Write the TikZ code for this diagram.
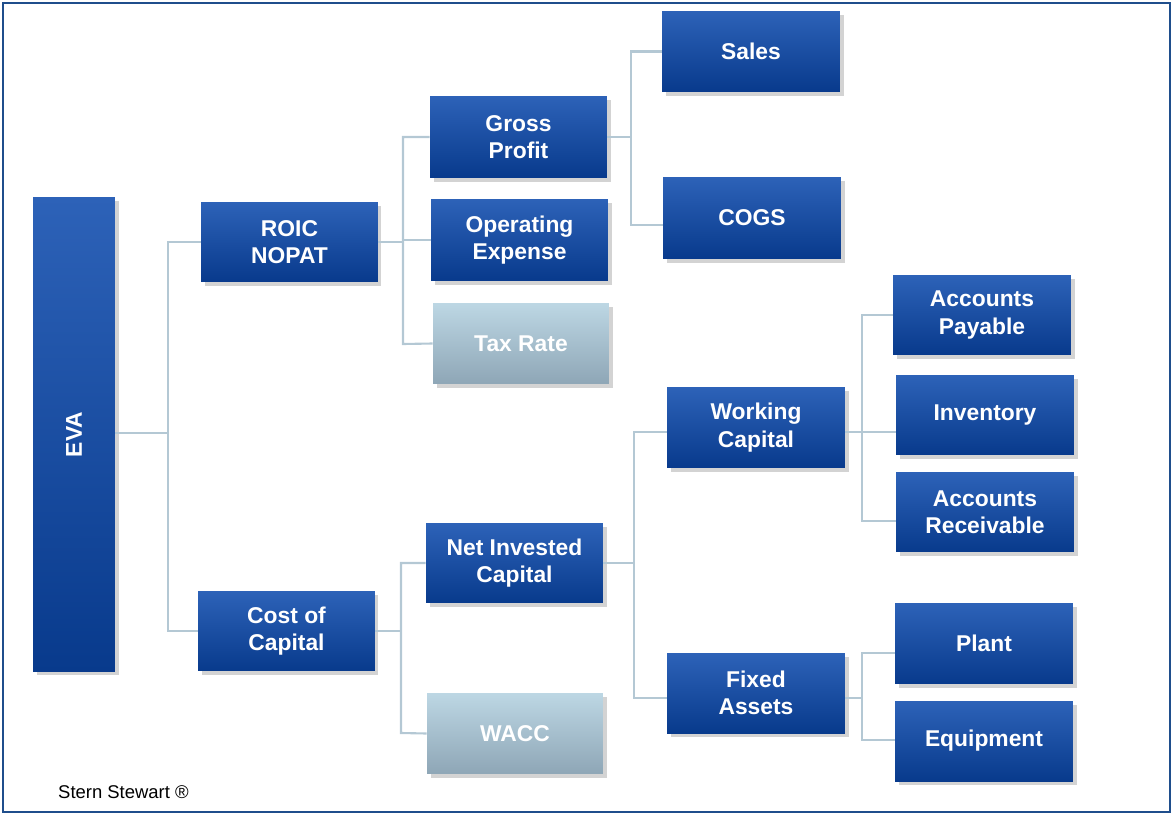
\documentclass[tikz,border=0pt]{standalone}
\usepackage{fontspec}
\setmainfont{Liberation Sans}
\usetikzlibrary{shadows}
\definecolor{btop}{HTML}{2D62B8}
\definecolor{bbot}{HTML}{083A8C}
\definecolor{ltop}{HTML}{BDD7E4}
\definecolor{lbot}{HTML}{8EA6B6}
\definecolor{frame}{HTML}{1F4E8C}
\definecolor{conn}{HTML}{B4C8D4}
\begin{document}
\begin{tikzpicture}[x=0.02cm,y=-0.02cm,
  box/.style={draw=none,top color=btop,bottom color=bbot,text=white,align=center,
    font=\fontsize{13}{15.5}\selectfont\bfseries,inner sep=0pt,
    drop shadow={shadow xshift=2pt,shadow yshift=-2pt,opacity=0.35}},
  lbox/.style={box,top color=ltop,bottom color=lbot},
  cn/.style={draw=conn,line width=1.2pt}]
\useasboundingbox (0,0) rectangle (1174,815);
\draw[frame,line width=1.5pt] (3,3) rectangle (1170,812);
\node[box,minimum width=1.64cm,minimum height=9.5cm] (eva) at (74,434.5) {\rotatebox{90}{EVA}};
\node[box,minimum width=3.54cm,minimum height=1.6cm] (roic) at (289.5,242) {ROIC\\NOPAT};
\node[box,minimum width=3.54cm,minimum height=1.6cm] (coc) at (286.5,631) {Cost of\\Capital};
\node[box,minimum width=3.54cm,minimum height=1.64cm] (gp) at (518.5,137) {Gross\\Profit};
\node[box,minimum width=3.54cm,minimum height=1.64cm] (opex) at (519.5,240) {Operating\\Expense};
\node[lbox,minimum width=3.52cm,minimum height=1.62cm] (tax) at (521,343.5) {Tax Rate};
\node[box,minimum width=3.56cm,minimum height=1.62cm] (sales) at (751,51.5) {Sales};
\node[box,minimum width=3.56cm,minimum height=1.64cm] (cogs) at (752,218) {COGS};
\node[box,minimum width=3.54cm,minimum height=1.6cm] (nic) at (514.5,563) {Net Invested\\Capital};
\node[lbox,minimum width=3.52cm,minimum height=1.62cm] (wacc) at (515,733.5) {WACC};
\node[box,minimum width=3.56cm,minimum height=1.62cm] (wc) at (756,427.5) {Working\\Capital};
\node[box,minimum width=3.56cm,minimum height=1.6cm] (fa) at (756,693) {Fixed\\Assets};
\node[box,minimum width=3.56cm,minimum height=1.6cm] (ap) at (982,315) {Accounts\\Payable};
\node[box,minimum width=3.56cm,minimum height=1.6cm] (inv) at (985,415) {Inventory};
\node[box,minimum width=3.56cm,minimum height=1.6cm] (ar) at (985,512) {Accounts\\Receivable};
\node[box,minimum width=3.56cm,minimum height=1.62cm] (plant) at (984,643.5) {Plant};
\node[box,minimum width=3.56cm,minimum height=1.6cm] (equip) at (984,741) {Equipment};
\draw[cn] (eva.east|-0,433) -- (168,433);
\draw[cn] (roic.west) -| (168,631) -- (coc.west);
\draw[cn] (roic.east) -- (403,242);
\draw[cn] (gp.west) -| (403,344) -- (tax.west);
\draw[cn] (403,240) -- (opex.west);
\draw[cn] (gp.east) -- (631,137);
\draw[cn] (sales.west) -| (631,225) -- (cogs.west|-0,225);
\draw[cn] (coc.east) -- (401,631);
\draw[cn] (nic.west) -| (401,733) -- (wacc.west);
\draw[cn] (nic.east) -- (634,563);
\draw[cn] (wc.west|-0,432) -| (634,698) -- (fa.west|-0,698);
\draw[cn] (wc.east|-0,432) -- (inv.west|-0,432);
\draw[cn] (ap.west) -| (862,521) -- (ar.west|-0,521);
\draw[cn] (fa.east|-0,698) -- (862,698);
\draw[cn] (plant.west|-0,653) -| (862,740) -- (equip.west|-0,740);
\node[anchor=west,font=\fontsize{10.5}{12}\selectfont] (ss) at (52,792) {Stern Stewart ®};
\end{tikzpicture}
\end{document}
